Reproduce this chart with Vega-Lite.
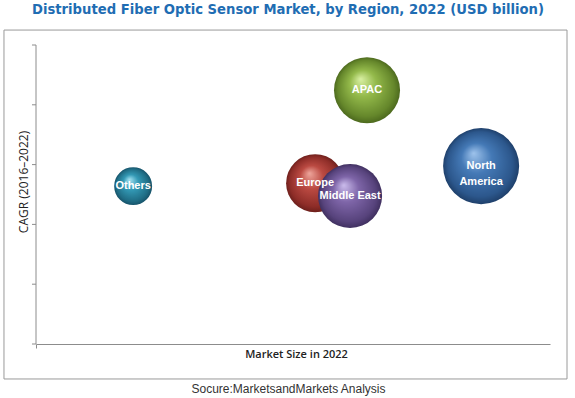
{
  "$schema": "https://vega.github.io/schema/vega-lite/v6.json",
  "width": 514,
  "height": 299,
  "autosize": {"type": "none"},
  "padding": {"left": 36, "top": 45, "right": 25, "bottom": 54},
  "background": "white",
  "title": {
    "text": "Distributed Fiber Optic Sensor Market, by Region, 2022 (USD billion)",
    "font": "DejaVu Sans",
    "fontSize": 13.2,
    "fontWeight": "bold",
    "color": "#1f6db3",
    "anchor": "middle",
    "frame": "group",
    "dx": -5,
    "offset": 12
  },
  "config": {"view": {"stroke": null}},
  "data": {
    "values": [
      {"region": "Others", "label": "Others", "market": 18.9, "cagr": 5.28, "bubble": 1.13},
      {"region": "Europe", "label": "Europe", "market": 54.3, "cagr": 5.38, "bubble": 2.64},
      {"region": "Middle East", "label": "Middle East", "market": 61.1, "cagr": 4.95, "bubble": 3.22},
      {"region": "APAC", "label": "APAC", "market": 64.4, "cagr": 8.49, "bubble": 3.42},
      {"region": "North America", "label": "North\nAmerica", "market": 86.6, "cagr": 5.95, "bubble": 4.54}
    ]
  },
  "resolve": {"axis": {"x": "independent"}},
  "layer": [
    {
      "data": {"values": [{"frame": "chart area"}]},
      "mark": {"type": "rect", "fill": null, "fillOpacity": 0, "stroke": "#9a9a9a", "strokeWidth": 1},
      "encoding": {
        "x": {"datum": -6.23, "type": "quantitative", "scale": {"domain": [0, 100], "nice": false, "zero": false}, "axis": null},
        "x2": {"datum": 103.31},
        "y": {"datum": -1.17, "type": "quantitative", "scale": {"domain": [0, 10], "nice": false, "zero": false}, "axis": null},
        "y2": {"datum": 10.5}
      }
    },
    {
      "data": {"values": [{"cagr_tick": 0}, {"cagr_tick": 2}, {"cagr_tick": 4}, {"cagr_tick": 6}, {"cagr_tick": 8}, {"cagr_tick": 10}]},
      "mark": {"type": "rule", "color": "#8c8c8c", "strokeWidth": 1},
      "encoding": {
        "x": {"datum": -0.78, "type": "quantitative", "scale": {"domain": [0, 100], "nice": false, "zero": false}, "axis": null},
        "x2": {"datum": 0},
        "y": {"field": "cagr_tick", "type": "quantitative", "scale": {"domain": [0, 10], "nice": false, "zero": false}, "axis": null}
      }
    },
    {
      "data": {"values": [{"axis": "CAGR (2016–2022)"}]},
      "mark": {"type": "rule", "color": "#8c8c8c", "strokeWidth": 1},
      "encoding": {
        "x": {"datum": 0, "type": "quantitative", "scale": {"domain": [0, 100], "nice": false, "zero": false}, "axis": null},
        "y": {"datum": 0, "type": "quantitative", "scale": {"domain": [0, 10], "nice": false, "zero": false}, "axis": null},
        "y2": {"datum": 10}
      }
    },
    {
      "data": {"values": [{"axis": "CAGR (2016–2022)"}]},
      "mark": {"type": "text", "angle": 270, "align": "center", "baseline": "middle", "font": "Open Sans", "fontSize": 12, "color": "#222"},
      "encoding": {
        "x": {"datum": -2.33, "type": "quantitative", "scale": {"domain": [0, 100], "nice": false, "zero": false}, "axis": null},
        "y": {"datum": 5.42, "type": "quantitative", "scale": {"domain": [0, 10], "nice": false, "zero": false}, "axis": null},
        "text": {"field": "axis"}
      }
    },
    {
      "mark": {"type": "point", "filled": true, "opacity": 1, "shape": "circle", "strokeWidth": 0},
      "encoding": {
        "x": {
          "field": "market", "type": "quantitative",
          "scale": {"domain": [0, 100], "nice": false, "zero": false},
          "axis": {
            "title": "Market Size in 2022", "orient": "bottom",
            "values": [0], "labels": false, "domain": true, "domainColor": "#8c8c8c", "grid": false,
            "ticks": true, "tickSize": 4, "tickColor": "#8c8c8c",
            "titleFont": "Open Sans", "titleFontSize": 11, "titleFontWeight": 600,
            "titleColor": "#222", "titlePadding": 0, "titleX": 260
          }
        },
        "y": {
          "field": "cagr", "type": "quantitative",
          "scale": {"domain": [0, 10], "nice": false, "zero": false},
          "axis": null
        },
        "size": {"field": "bubble", "type": "quantitative", "scale": {"domain": [0, 5], "range": [0, 6370]}, "legend": null},
        "fill": {
          "condition": [
            {"test": "datum.region === 'APAC'", "value": {"gradient": "radial", "x1": 0.4, "y1": 0.33, "r1": 0, "x2": 0.5, "y2": 0.5, "r2": 0.5,
              "stops": [{"offset": 0, "color": "#d9f0a3"}, {"offset": 0.4, "color": "#93b94a"}, {"offset": 0.85, "color": "#65872b"}, {"offset": 1, "color": "#4d6a1e"}]}},
            {"test": "datum.region === 'North America'", "value": {"gradient": "radial", "x1": 0.4, "y1": 0.33, "r1": 0, "x2": 0.5, "y2": 0.5, "r2": 0.5,
              "stops": [{"offset": 0, "color": "#9ec3ec"}, {"offset": 0.4, "color": "#4479b6"}, {"offset": 0.85, "color": "#2c578c"}, {"offset": 1, "color": "#1f406b"}]}},
            {"test": "datum.region === 'Europe'", "value": {"gradient": "radial", "x1": 0.4, "y1": 0.33, "r1": 0, "x2": 0.5, "y2": 0.5, "r2": 0.5,
              "stops": [{"offset": 0, "color": "#eea69c"}, {"offset": 0.4, "color": "#bb4a42"}, {"offset": 0.85, "color": "#8e2d28"}, {"offset": 1, "color": "#6e201c"}]}},
            {"test": "datum.region === 'Middle East'", "value": {"gradient": "radial", "x1": 0.4, "y1": 0.33, "r1": 0, "x2": 0.5, "y2": 0.5, "r2": 0.5,
              "stops": [{"offset": 0, "color": "#cbbcec"}, {"offset": 0.4, "color": "#7e65a8"}, {"offset": 0.85, "color": "#57437c"}, {"offset": 1, "color": "#403060"}]}}
          ],
          "value": {"gradient": "radial", "x1": 0.4, "y1": 0.33, "r1": 0, "x2": 0.5, "y2": 0.5, "r2": 0.5,
            "stops": [{"offset": 0, "color": "#a4e2f2"}, {"offset": 0.4, "color": "#3399b5"}, {"offset": 0.85, "color": "#1f6c84"}, {"offset": 1, "color": "#17536a"}]}
        }
      }
    },
    {
      "mark": {"type": "text", "color": "white", "font": "Liberation Sans", "fontSize": 11, "fontWeight": "bold", "align": "center", "baseline": "middle", "lineBreak": "\n", "lineHeight": 16},
      "encoding": {
        "x": {
          "field": "market", "type": "quantitative",
          "scale": {"domain": [0, 100], "nice": false, "zero": false},
          "axis": {
            "title": "Socure:MarketsandMarkets Analysis", "orient": "bottom", "offset": 35,
            "labels": false, "domain": false, "ticks": false, "grid": false,
            "titleFont": "Liberation Sans", "titleFontSize": 12, "titleFontWeight": "normal",
            "titleColor": "#333", "titlePadding": 4, "titleX": 252
          }
        },
        "y": {"field": "cagr", "type": "quantitative", "scale": {"domain": [0, 10], "nice": false, "zero": false}, "axis": null},
        "text": {"field": "label"}
      }
    }
  ]
}
